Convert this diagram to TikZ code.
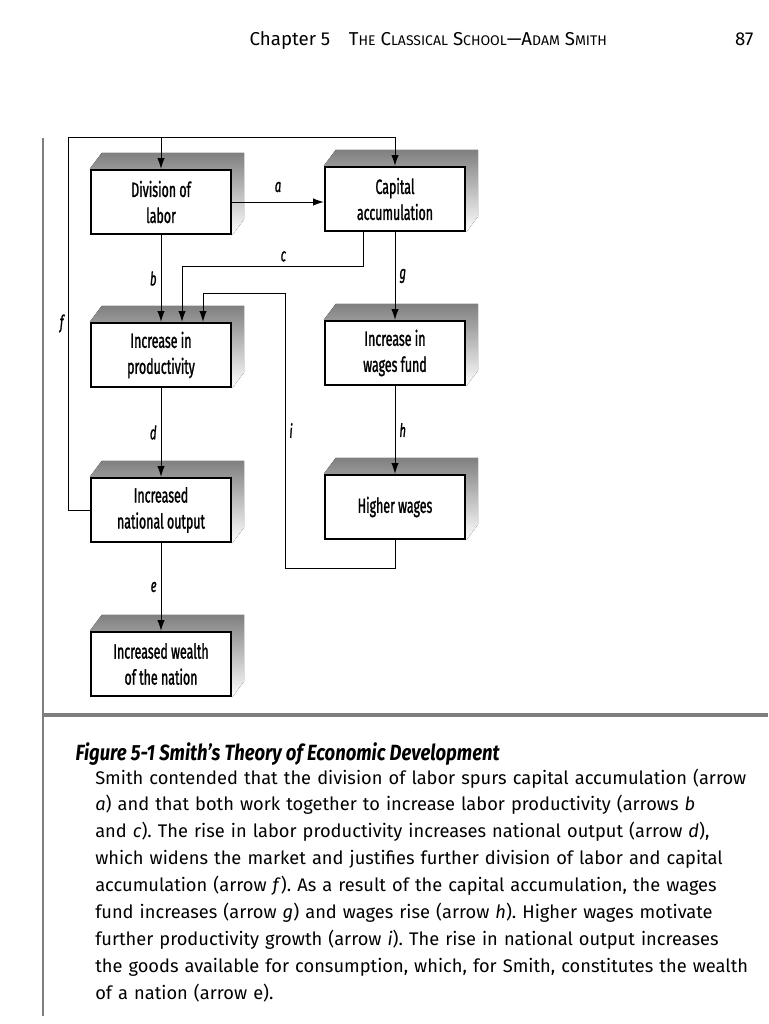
\documentclass[tikz,border=0pt]{standalone}
\usepackage{fontspec}
\setmainfont{Fira Sans}
\newfontfamily\boxfont[FakeStretch=0.6,FakeBold=1.2]{Fira Sans}
\newfontfamily\titlefont[FakeStretch=0.84]{Fira Sans}
\usepackage{tikz}
\usetikzlibrary{arrows.meta,positioning,backgrounds}
\definecolor{shade}{HTML}{B0B0B0}
\definecolor{rulegray}{HTML}{7E7E7E}
\newcommand{\smc}[1]{{\fontsize{10.5}{10.5}\selectfont #1}}
\frenchspacing

\begin{document}
\begin{tikzpicture}[x=0.75pt,y=-0.75pt,
  box/.style={draw,line width=1.8pt,fill=white,align=center,minimum width=105pt,minimum height=48pt,inner sep=2pt,font=\boxfont\fontsize{15.5}{19.5}\selectfont},
  conn/.style={line width=0.7pt},
  arr/.style={conn,-{Latex[length=8pt,width=5.5pt]}},
  lbl/.style={font=\boxfont\itshape\fontsize{14}{14}\selectfont,inner sep=3pt}]
\useasboundingbox (0,0) rectangle (768,1024);
\node[anchor=base west,font=\fontsize{14}{14}\selectfont] (head) at (245,46) {Chapter 5\quad T\smc{HE} C\smc{LASSICAL} S\smc{CHOOL}—A\smc{DAM} S\smc{MITH}};
\node[anchor=base east,font=\fontsize{14}{14}\selectfont] (page) at (758,46) {87};
\node[box] (div) at (161,202) {Division of\\labor};
\node[box] (cap) at (395,199) {Capital\\accumulation};
\node[box] (prod) at (161,355) {Increase in\\productivity};
\node[box] (wfund) at (395,353) {Increase in\\wages fund};
\node[box] (out) at (161,510) {Increased\\national output};
\node[box] (hw) at (395,507) {Higher wages};
\node[box] (wealth) at (161,664) {Increased wealth\\of the nation};
\begin{scope}[on background layer]
\foreach \n in {div,cap,prod,wfund,out,hw,wealth}
  \fill[shade] (\n.north west) -- ([shift={(9pt,12pt)}]\n.north west) -- ([shift={(9pt,12pt)}]\n.north east)
    -- ([shift={(9pt,12pt)}]\n.south east) -- (\n.south east) -- cycle;
\end{scope}
\coordinate (ftop) at (68,137);
\coordinate (cturn) at (182,266);
\coordinate (ibot) at (285,568);
\coordinate (itop) at (285,293);
\coordinate (iin) at (203,0);
\draw[arr] (div.east) -- node[lbl,above=4pt]{a} (div.east -| cap.west);
\draw[arr] (div.south) -- node[lbl,left]{b} (prod.north);
\draw[arr] ([xshift=-24pt]cap.south) |- node[lbl,above,pos=0.72]{c} (cturn) -- (cturn |- prod.north);
\draw[arr] (prod.south) -- node[lbl,left]{d} (out.north);
\draw[arr] (out.south) -- node[lbl,left]{e} (wealth.north);
\draw[arr] (out.west) -| node[lbl,left,pos=0.75]{f} (ftop) -| (cap.north);
\draw[arr] (ftop -| div.north) -- (div.north);
\draw[arr] (cap.south) -- node[lbl,right]{g} (wfund.north);
\draw[arr] (wfund.south) -- node[lbl,right]{h} (hw.north);
\draw[arr] (hw.south) |- (ibot) -- node[lbl,right]{i} (itop) -| (iin |- prod.north);
\draw[rulegray,line width=2.2pt] (43,138) -- (43,1016);
\draw[rulegray,line width=3pt] (42,715) -- (768,715);
\node[anchor=base west,font=\titlefont\bfseries\itshape\fontsize{16.5}{16.5}\selectfont] (title) at (71,760) {Figure 5-1 Smith’s Theory of Economic Development};
\node[anchor=base west,text width=540pt,align=left,inner sep=0pt,font=\fontsize{13.7}{20.2}\selectfont] (caption) at (95,784)
  {Smith contended that the division of labor spurs capital accumulation (arrow\\
  \emph{a}) and that both work together to increase labor productivity (arrows \emph{b}\\
  and \emph{c}). The rise in labor productivity increases national output (arrow \emph{d}),\\
  which widens the market and justifies further division of labor and capital\\
  accumulation (arrow \emph{f}). As a result of the capital accumulation, the wages\\
  fund increases (arrow \emph{g}) and wages rise (arrow \emph{h}). Higher wages motivate\\
  further productivity growth (arrow \emph{i}). The rise in national output increases\\
  the goods available for consumption, which, for Smith, constitutes the wealth\\
  of a nation (arrow e).};
\end{tikzpicture}
\end{document}
